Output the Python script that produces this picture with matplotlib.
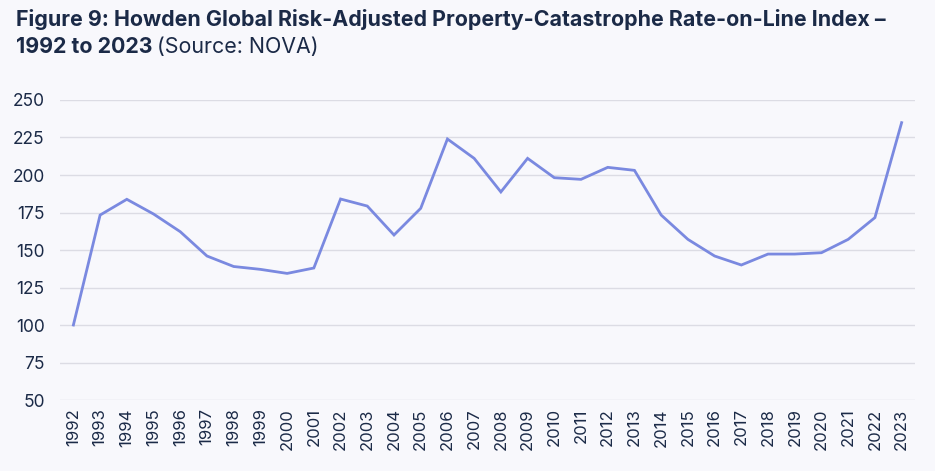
import matplotlib
matplotlib.use("Agg")
import matplotlib.pyplot as plt

years = list(range(1992, 2024))
index_values = [100, 173.3, 183.8, 174, 162.2, 146, 139, 137.1, 134.4, 138,
                184, 179.3, 160, 177.8, 224, 211.1, 188.7, 211.1, 198.2, 197.1,
                205.1, 203.1, 173.3, 157.1, 146, 140, 147.3, 147.3, 148.2, 157.1,
                171.6, 234.9]
y_ticks = [50, 75, 100, 125, 150, 175, 200, 225, 250]

BG = "#F8F8FC"
NAVY = "#1B2A47"
LINE = "#7A89E0"
GRID = "#DCDCE4"

plt.rcParams['font.family'] = ['Inter', 'DejaVu Sans']

fig = plt.figure(figsize=(9.35, 4.71), dpi=100, facecolor=BG)
ax = fig.add_axes([0.0642, 0.1507, 0.9786 - 0.0642, 0.7877 - 0.1507])
ax.set_facecolor(BG)

ax.plot(years, index_values, color=LINE, linewidth=2.0, solid_joinstyle='miter')

ax.set_ylim(50, 250)
ax.set_xlim(1991.5, 2023.5)
ax.set_yticks(y_ticks)
ax.set_xticks(years)
ax.set_xticklabels([str(y) for y in years], rotation=90)
ax.grid(axis='y', color=GRID, linewidth=1.0)
ax.set_axisbelow(True)
for s in ax.spines.values():
    s.set_visible(False)
ax.tick_params(axis='both', length=0, colors=NAVY, labelsize=12)
ax.tick_params(axis='y', labelsize=12.5, pad=11)
ax.tick_params(axis='x', pad=6)

fig.text(0.017, 0.945, "Figure 9: Howden Global Risk-Adjusted Property-Catastrophe Rate-on-Line Index \u2013",
         fontsize=15.4, fontweight='bold', color=NAVY, va='baseline', ha='left')
t = fig.text(0.017, 0.8875, "1992 to 2023", fontsize=15.4, fontweight='bold', color=NAVY,
             va='baseline', ha='left')
fig.canvas.draw()
bb = t.get_window_extent()
x2 = (bb.x1 + 5) / fig.bbox.width
fig.text(x2, 0.8875, "(Source: NOVA)", fontsize=15.4, color=NAVY, va='baseline', ha='left')

fig.savefig("out.png", dpi=100, facecolor=BG)
